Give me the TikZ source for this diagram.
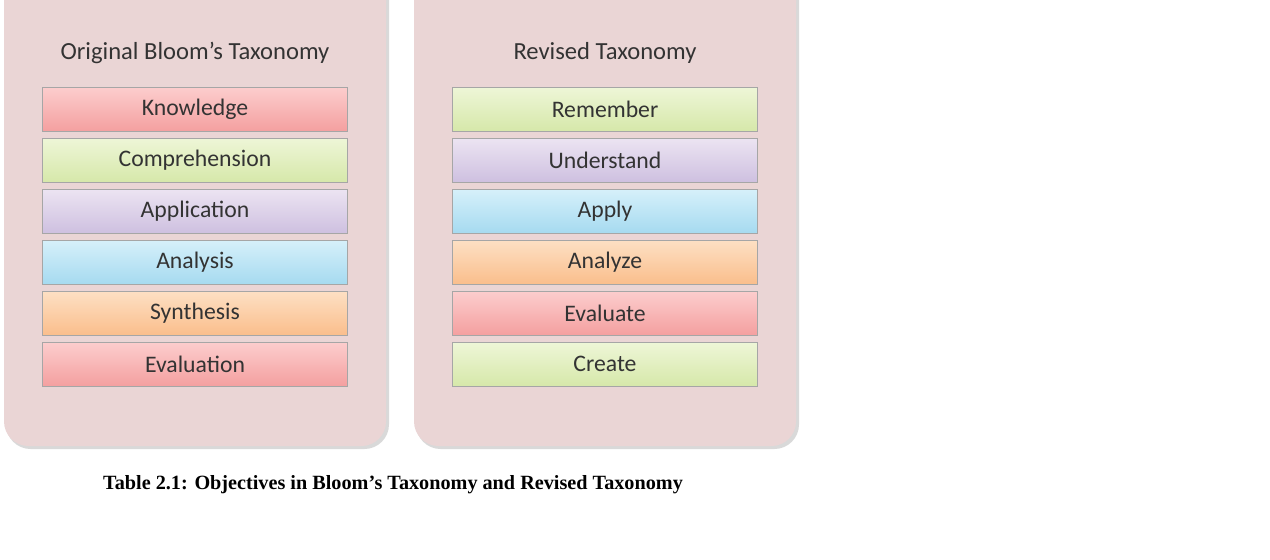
\documentclass[tikz,border=0pt]{standalone}
\usepackage{fontspec}
\setmainfont{Carlito}
\newfontfamily\capfont{Liberation Serif}
\begin{document}
\begin{tikzpicture}[x=0.02cm,y=-0.02cm]
\definecolor{panel}{RGB}{234,213,213}
\definecolor{rtop}{RGB}{252,205,205}\definecolor{rbot}{RGB}{244,160,160}
\definecolor{gtop}{RGB}{238,246,215}\definecolor{gbot}{RGB}{214,232,170}
\definecolor{ptop}{RGB}{236,228,242}\definecolor{pbot}{RGB}{206,192,224}
\definecolor{btop}{RGB}{214,240,250}\definecolor{bbot}{RGB}{166,218,240}
\definecolor{otop}{RGB}{253,224,196}\definecolor{obot}{RGB}{250,190,140}
\tikzset{
 panelbox/.style={fill=panel,rounded corners=14pt,draw=none},
 lvl/.style={minimum width=305*0.02cm,minimum height=44*0.02cm,draw=black!35,font=\fontsize{13.5}{16}\selectfont,text=black!80,inner sep=0pt},
 rr/.style={lvl,top color=rtop,bottom color=rbot},
 gg/.style={lvl,top color=gtop,bottom color=gbot},
 pp/.style={lvl,top color=ptop,bottom color=pbot},
 bb/.style={lvl,top color=btop,bottom color=bbot},
 oo/.style={lvl,top color=otop,bottom color=obot},
 ttl/.style={font=\fontsize{14}{17}\selectfont,text=black!80},
}
\useasboundingbox (0,0) rectangle (1270,559);
\begin{scope}
\clip (0,0) rectangle (1270,559);
\fill[black!15,rounded corners=14pt] (6,-30) rectangle (389,449);
\fill[black!15,rounded corners=14pt] (416,-30) rectangle (799,449);
\fill[panelbox] (4,-30) rectangle (386,446);
\fill[panelbox] (414,-30) rectangle (796,446);
\end{scope}
\node[ttl] (t1) at (195,53) {Original Bloom's Taxonomy};
\node[ttl] (t2) at (605,53) {Revised Taxonomy};
\foreach \n/\s/\t/\y in {a/rr/Knowledge/109,b/gg/Comprehension/160,c/pp/Application/211,d/bb/Analysis/262,e/oo/Synthesis/313,f/rr/Evaluation/364}
  \node[\s] (l\n) at (195,\y) {\t};
\foreach \n/\s/\t/\y in {a/gg/Remember/109,b/pp/Understand/160,c/bb/Apply/211,d/oo/Analyze/262,e/rr/Evaluate/313,f/gg/Create/364}
  \node[\s] (r\n) at (605,\y) {\t};
\node[font=\capfont\bfseries\fontsize{11.5}{14}\selectfont,anchor=west] (cap) at (97,485) {Table 2.1: Objectives in Bloom’s Taxonomy and Revised Taxonomy};
\end{tikzpicture}
\end{document}
